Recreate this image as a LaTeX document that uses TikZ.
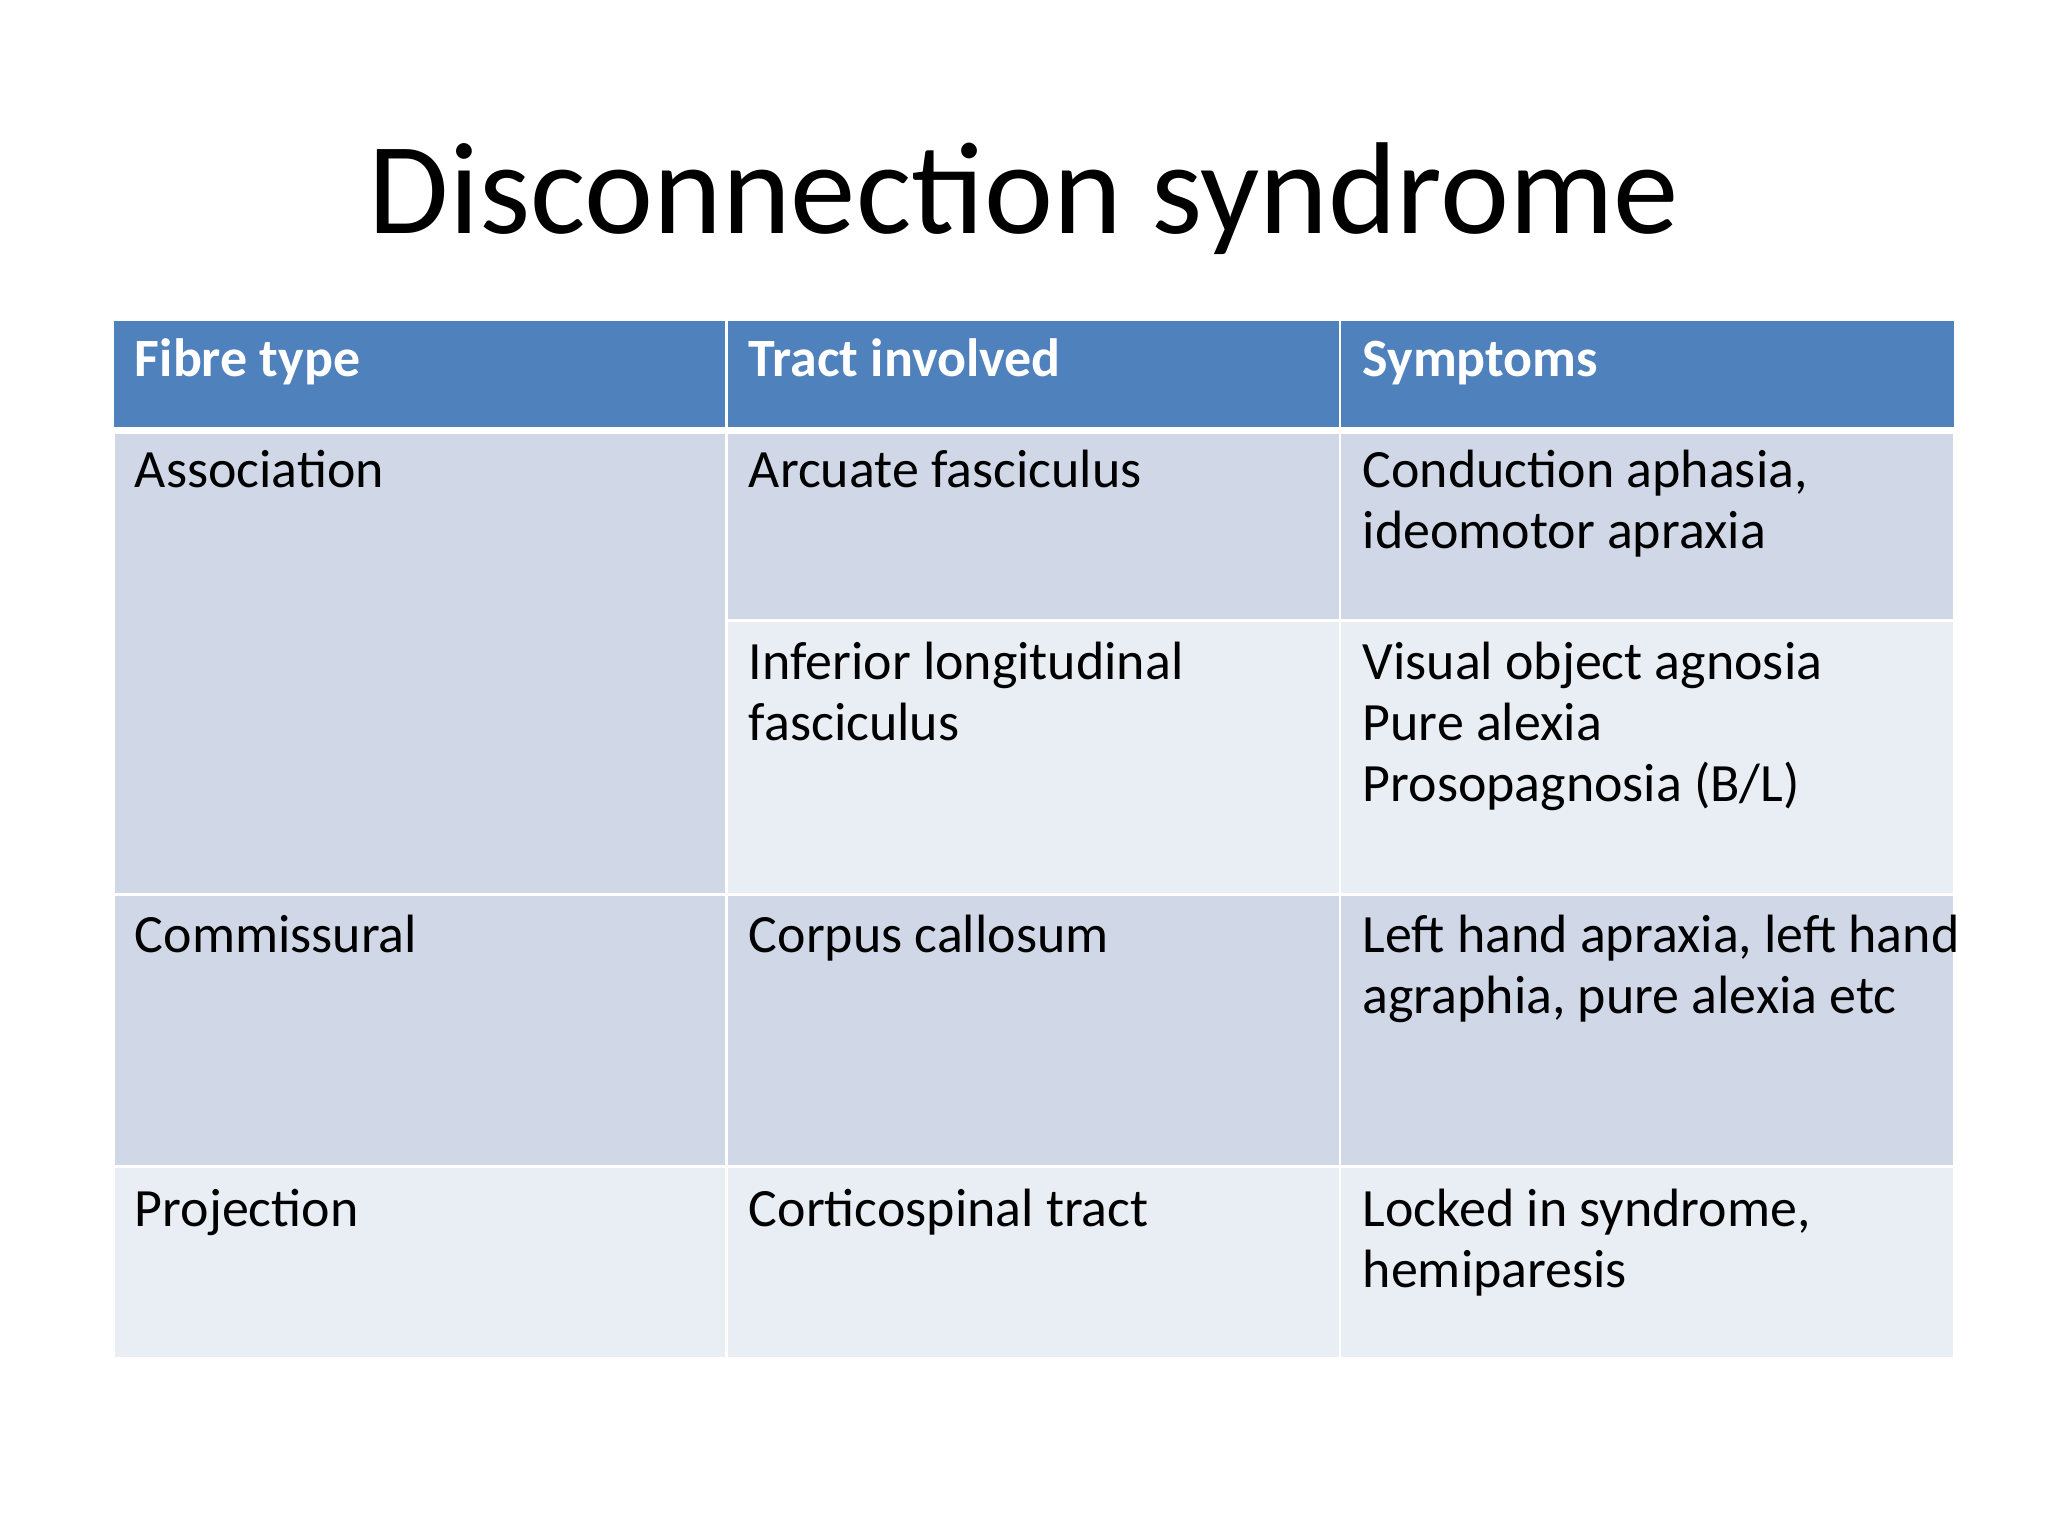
\documentclass[tikz,border=0pt]{standalone}
\usepackage{fontspec}
\setmainfont{Carlito}
\definecolor{hdr}{HTML}{4F81BD}
\definecolor{dark}{HTML}{D0D8E8}
\definecolor{light}{HTML}{E9EDF4}
\begin{document}
\begin{tikzpicture}[x=0.02cm,y=-0.02cm,
  cell/.style={draw=white,line width=1.2pt},
  txt/.style={anchor=base west,inner sep=0pt,font=\fontsize{23.5}{28}\selectfont},
  htxt/.style={txt,text=white,font=\fontsize{23.5}{28}\selectfont\bfseries}]
\useasboundingbox (0,0) rectangle (1568,1176);
\node[anchor=base,inner sep=0pt,font=\fontsize{57}{64}\selectfont] (title) at (784,179) {Disconnection syndrome};
% header
\fill[hdr] (87,246) rectangle (1496,328);
\draw[cell] (556,246) -- (556,328) (1026,246) -- (1026,328);
\draw[white,line width=2.5pt] (87,329) -- (1496,329);
% body cells
\filldraw[cell,fill=dark] (87,331) rectangle (556,685);
\filldraw[cell,fill=dark] (556,331) rectangle (1026,475);
\filldraw[cell,fill=dark] (1026,331) rectangle (1496,475);
\filldraw[cell,fill=light] (556,475) rectangle (1026,685);
\filldraw[cell,fill=light] (1026,475) rectangle (1496,685);
\filldraw[cell,fill=dark] (87,685) rectangle (556,893);
\filldraw[cell,fill=dark] (556,685) rectangle (1026,893);
\filldraw[cell,fill=dark] (1026,685) rectangle (1496,893);
\filldraw[cell,fill=light] (87,893) rectangle (556,1040);
\filldraw[cell,fill=light] (556,893) rectangle (1026,1040);
\filldraw[cell,fill=light] (1026,893) rectangle (1496,1040);
% header text
\node[htxt] (h1) at (103,288) {Fibre type};
\node[htxt] (h2) at (573,288) {Tract involved};
\node[htxt] (h3) at (1043,288) {Symptoms};
% row texts
\node[txt] (a1) at (103,373) {Association};
\node[txt] (a2) at (573,373) {Arcuate fasciculus};
\node[txt] (a3) at (1043,373) {Conduction aphasia,};
\node[txt] (a3b) at (1043,420) {ideomotor apraxia};
\node[txt] (b2) at (573,520) {Inferior longitudinal};
\node[txt] (b2b) at (573,567) {fasciculus};
\node[txt] (b3) at (1043,520) {Visual object agnosia};
\node[txt] (b3b) at (1043,567) {Pure alexia};
\node[txt] (b3c) at (1043,614) {Prosopagnosia (B/L)};
\node[txt] (c1) at (103,729) {Commissural};
\node[txt] (c2) at (573,729) {Corpus callosum};
\node[txt] (c3) at (1043,729) {Left hand apraxia, left hand};
\node[txt] (c3b) at (1043,776) {agraphia, pure alexia etc};
\node[txt] (d1) at (103,939) {Projection};
\node[txt] (d2) at (573,939) {Corticospinal tract};
\node[txt] (d3) at (1043,939) {Locked in syndrome,};
\node[txt] (d3b) at (1043,986) {hemiparesis};
\end{tikzpicture}
\end{document}
